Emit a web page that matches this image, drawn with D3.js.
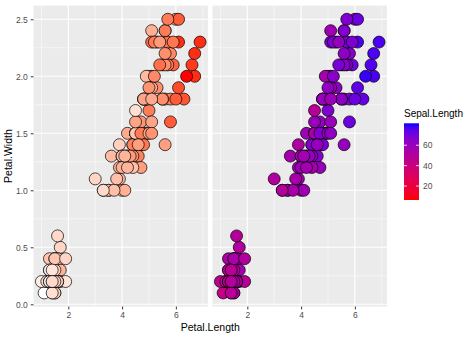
<!DOCTYPE html>
<html><head><meta charset="utf-8">
<script src="https://cdn.jsdelivr.net/npm/d3@7"></script>
<style>body{margin:0;background:#fff}svg{display:block}text{font-family:"Liberation Sans",Arial,sans-serif}</style>
</head><body><svg id="c" width="474" height="338"></svg>
<script>
// iris: Sepal.Length, Petal.Length, Petal.Width
const sepalLength = [5.1,4.9,4.7,4.6,5.0,5.4,4.6,5.0,4.4,4.9,5.4,4.8,4.8,4.3,5.8,5.7,5.4,5.1,5.7,5.1,5.4,5.1,4.6,5.1,4.8,5.0,5.0,5.2,5.2,4.7,4.8,5.4,5.2,5.5,4.9,5.0,5.5,4.9,4.4,5.1,5.0,4.5,4.4,5.0,5.1,4.8,5.1,4.6,5.3,5.0,
7.0,6.4,6.9,5.5,6.5,5.7,6.3,4.9,6.6,5.2,5.0,5.9,6.0,6.1,5.6,6.7,5.6,5.8,6.2,5.6,5.9,6.1,6.3,6.1,6.4,6.6,6.8,6.7,6.0,5.7,5.5,5.5,5.8,6.0,5.4,6.0,6.7,6.3,5.6,5.5,5.5,6.1,5.8,5.0,5.6,5.7,5.7,6.2,5.1,5.7,
6.3,5.8,7.1,6.3,6.5,7.6,4.9,7.3,6.7,7.2,6.5,6.4,6.8,5.7,5.8,6.4,6.5,7.7,7.7,6.0,6.9,5.6,7.7,6.3,6.7,7.2,6.2,6.1,6.4,7.2,7.4,7.9,6.4,6.3,6.1,7.7,6.3,6.4,6.0,6.9,6.7,6.9,5.8,6.8,6.7,6.7,6.3,6.5,6.2,5.9];
const petalLength = [1.4,1.4,1.3,1.5,1.4,1.7,1.4,1.5,1.4,1.5,1.5,1.6,1.4,1.1,1.2,1.5,1.3,1.4,1.7,1.5,1.7,1.5,1.0,1.7,1.9,1.6,1.6,1.5,1.4,1.6,1.6,1.5,1.5,1.4,1.5,1.2,1.3,1.4,1.3,1.5,1.3,1.3,1.3,1.6,1.9,1.4,1.6,1.4,1.5,1.4,
4.7,4.5,4.9,4.0,4.6,4.5,4.7,3.3,4.6,3.9,3.5,4.2,4.0,4.7,3.6,4.4,4.5,4.1,4.5,3.9,4.8,4.0,4.9,4.7,4.3,4.4,4.8,5.0,4.5,3.5,3.8,3.7,3.9,5.1,4.5,4.5,4.7,4.4,4.1,4.0,4.4,4.6,4.0,3.3,4.2,4.2,4.2,4.3,3.0,4.1,
6.0,5.1,5.9,5.6,5.8,6.6,4.5,6.3,5.8,6.1,5.1,5.3,5.5,5.0,5.1,5.3,5.5,6.7,6.9,5.0,5.7,4.9,6.7,4.9,5.7,6.0,4.8,4.9,5.6,5.8,6.1,6.4,5.6,5.1,5.6,6.1,5.6,5.5,4.8,5.4,5.6,5.1,5.1,5.9,5.7,5.2,5.0,5.2,5.4,5.1];
const petalWidth = [0.2,0.2,0.2,0.2,0.2,0.4,0.3,0.2,0.2,0.1,0.2,0.2,0.1,0.1,0.2,0.4,0.4,0.3,0.3,0.3,0.2,0.4,0.2,0.5,0.2,0.2,0.4,0.2,0.2,0.2,0.2,0.4,0.1,0.2,0.2,0.2,0.2,0.1,0.2,0.2,0.3,0.3,0.2,0.6,0.4,0.3,0.2,0.2,0.2,0.2,
1.4,1.5,1.5,1.3,1.5,1.3,1.6,1.0,1.3,1.4,1.0,1.5,1.0,1.4,1.3,1.4,1.5,1.0,1.5,1.1,1.8,1.3,1.5,1.2,1.3,1.4,1.4,1.7,1.5,1.0,1.1,1.0,1.2,1.6,1.5,1.6,1.5,1.3,1.3,1.3,1.2,1.4,1.2,1.0,1.3,1.2,1.3,1.3,1.1,1.3,
2.5,1.9,2.1,1.8,2.2,2.1,1.7,1.8,1.8,2.5,2.0,1.9,2.1,2.0,2.4,2.3,1.8,2.2,2.3,1.5,2.3,2.0,2.0,1.8,2.1,1.8,1.8,1.8,2.1,1.6,1.9,2.0,2.2,1.5,1.4,2.3,2.4,1.8,1.8,2.1,2.4,2.3,1.9,2.3,2.5,2.3,1.9,2.0,2.3,1.8];
const xTicks = [2,4,6];
const yTicks = [0.0,0.5,1.0,1.5,2.0,2.5];
const legendTicks = [20,40,60];
const legendDomain = [6.3,81.5];   // right-panel colourbar range
const rightValueFactor = 10;       // right-panel fill value = Sepal.Length * 10

const data = sepalLength.map((s,i)=>({s, pl:petalLength[i], pw:petalWidth[i]}));
const svg = d3.select("#c");
const pTop=5.6, pBottom=306.6;
const panels=[{x0:33.5,x1:208},{x0:212.5,x1:387}];
const xDom=[1.0-0.295,6.9+0.295], yDom=[0.1-0.12,2.5+0.12];
const y=d3.scaleLinear().domain(yDom).range([pBottom,pTop]);
const sExt=d3.extent(sepalLength);
const fillLeft=d3.scaleLinear().domain(sExt).range(["white","red"]).interpolate(d3.interpolateLab);
const fillRight=d3.scaleLinear().domain(legendDomain).range(["red","blue"]).interpolate(d3.interpolateLab);

panels.forEach((p,pi)=>{
  const x=d3.scaleLinear().domain(xDom).range([p.x0,p.x1]);
  const g=svg.append("g");
  g.append("rect").attr("x",p.x0).attr("y",pTop).attr("width",p.x1-p.x0).attr("height",pBottom-pTop).attr("fill","#EBEBEB");
  const xMinor=[1,3,5,7], yMinor=[0.25,0.75,1.25,1.75,2.25];
  g.selectAll(".xm").data(xMinor).join("line").attr("x1",d=>x(d)).attr("x2",d=>x(d)).attr("y1",pTop).attr("y2",pBottom).attr("stroke","#fff").attr("stroke-width",0.5);
  g.selectAll(".ym").data(yMinor).join("line").attr("y1",d=>y(d)).attr("y2",d=>y(d)).attr("x1",p.x0).attr("x2",p.x1).attr("stroke","#fff").attr("stroke-width",0.5);
  g.selectAll(".xM").data(xTicks).join("line").attr("x1",d=>x(d)).attr("x2",d=>x(d)).attr("y1",pTop).attr("y2",pBottom).attr("stroke","#fff").attr("stroke-width",1.1);
  g.selectAll(".yM").data(yTicks).join("line").attr("y1",d=>y(d)).attr("y2",d=>y(d)).attr("x1",p.x0).attr("x2",p.x1).attr("stroke","#fff").attr("stroke-width",1.1);
  const xa=svg.append("g").attr("transform",`translate(0,${pBottom})`).call(d3.axisBottom(x).tickValues(xTicks).tickSize(2.75).tickPadding(3).tickFormat(d3.format("d")));
  xa.select(".domain").remove();
  xa.selectAll("line").attr("stroke","#333");
  xa.selectAll("text").attr("fill","#4D4D4D").style("font-size","8.5px").style("font-family","Liberation Sans, Arial");
  const f = pi===0 ? (d=>fillLeft(d.s)) : (d=>fillRight(d.s*rightValueFactor));
  svg.append("g").selectAll("circle").data(data).join("circle")
    .attr("cx",d=>x(d.pl)).attr("cy",d=>y(d.pw)).attr("r",6)
    .attr("fill",f).attr("stroke","#000").attr("stroke-width",0.7);
});
const ya=svg.append("g").attr("transform",`translate(${panels[0].x0},0)`).call(d3.axisLeft(y).tickValues(yTicks).tickSize(2.75).tickPadding(3).tickFormat(d3.format(".1f")));
ya.select(".domain").remove();
ya.selectAll("line").attr("stroke","#333");
ya.selectAll("text").attr("fill","#4D4D4D").style("font-size","8.5px").style("font-family","Liberation Sans, Arial");

svg.append("text").attr("x",(panels[0].x0+panels[1].x1)/2).attr("y",331).attr("text-anchor","middle").style("font-size","10.5px").attr("fill","#000").text("Petal.Length");
svg.append("text").attr("transform",`translate(12,${(pTop+pBottom)/2}) rotate(-90)`).attr("text-anchor","middle").style("font-size","10.5px").attr("fill","#000").text("Petal.Width");

const lx=404, ly0=123.3, ly1=200, lw=15;
const defs=svg.append("defs");
const grad=defs.append("linearGradient").attr("id","lg").attr("x1",0).attr("x2",0).attr("y1",1).attr("y2",0);
d3.range(0,1.0001,0.05).forEach(t=>grad.append("stop").attr("offset",t).attr("stop-color",fillRight(legendDomain[0]+t*(legendDomain[1]-legendDomain[0]))));
svg.append("text").attr("x",lx).attr("y",117).style("font-size","10px").attr("fill","#000").text("Sepal.Length");
svg.append("rect").attr("x",lx).attr("y",ly0).attr("width",lw).attr("height",ly1-ly0).attr("fill","url(#lg)");
const ls=d3.scaleLinear().domain(legendDomain).range([ly1,ly0]);
legendTicks.forEach(v=>{
  svg.append("line").attr("x1",lx).attr("x2",lx+3).attr("y1",ls(v)).attr("y2",ls(v)).attr("stroke","#fff").attr("stroke-width",0.8);
  svg.append("line").attr("x1",lx+lw-3).attr("x2",lx+lw).attr("y1",ls(v)).attr("y2",ls(v)).attr("stroke","#fff").attr("stroke-width",0.8);
  svg.append("text").attr("x",lx+lw+4).attr("y",ls(v)+3).style("font-size","8.5px").attr("fill","#4D4D4D").text(v);
});
</script></body></html>
